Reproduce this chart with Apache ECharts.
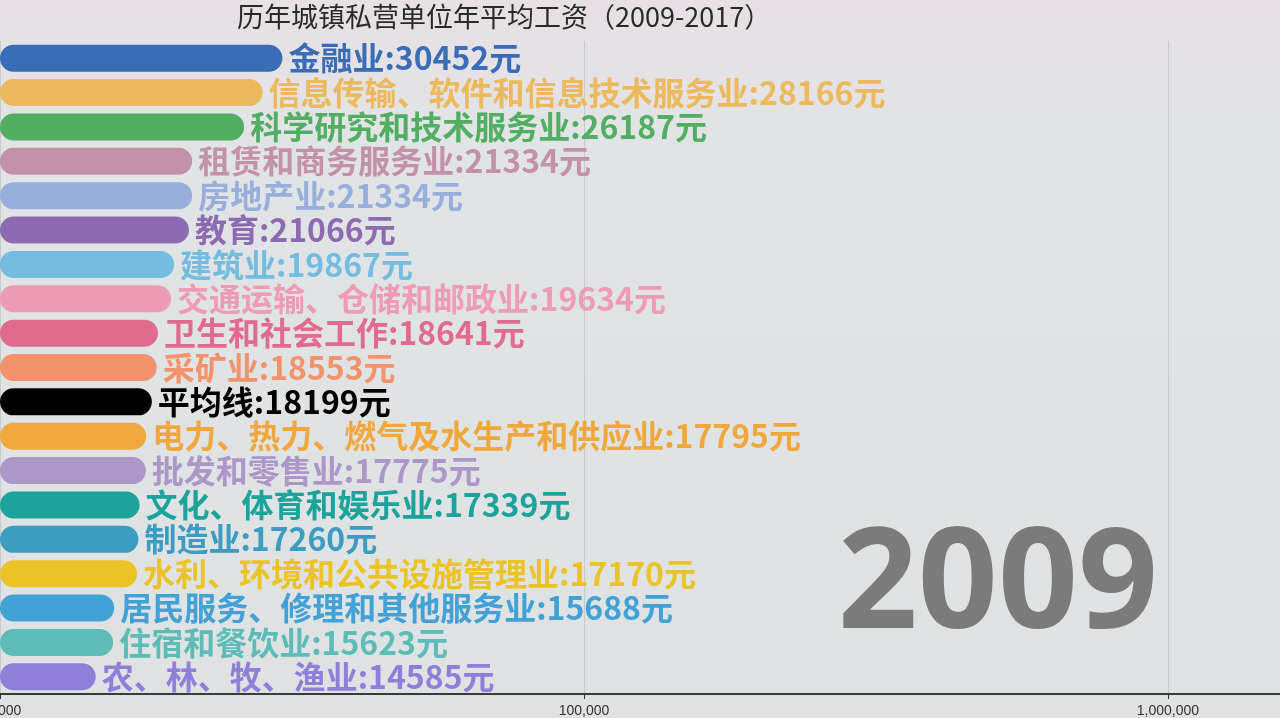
<!DOCTYPE html>
<html>
<head>
<meta charset="utf-8">
<script src="https://cdn.jsdelivr.net/npm/echarts@6/dist/echarts.min.js"></script>
<style>
html,body{margin:0;padding:0;width:1280px;height:718px;overflow:hidden;}
#c{width:1280px;height:718px;}
</style>
</head>
<body>
<div id="c"></div>
<script>
var titleText = '历年城镇私营单位年平均工资（2009-2017）';
var yearText = '2009';
var categories = ['金融业','信息传输、软件和信息技术服务业','科学研究和技术服务业','租赁和商务服务业','房地产业','教育','建筑业','交通运输、仓储和邮政业','卫生和社会工作','采矿业','平均线','电力、热力、燃气及水生产和供应业','批发和零售业','文化、体育和娱乐业','制造业','水利、环境和公共设施管理业','居民服务、修理和其他服务业','住宿和餐饮业','农、林、牧、渔业'];
var values = [30452,28166,26187,21334,21334,21066,19867,19634,18641,18553,18199,17795,17775,17339,17260,17170,15688,15623,14585];
var colors = ['#3a6db5','#ecb95c','#52ae62','#c391a8','#98aedb','#8e6bb0','#75bde0','#ee9bb5','#e06b8d','#f2936c','#000000','#f0a83c','#ad96c8','#1ca39c','#3d9cc2','#ebc326','#42a2d6','#5dbcb7','#8f7fd8'];
var xTicks = [10000,100000,1000000];

var chart = echarts.init(document.getElementById('c'));
var data = values.map(function(v,i){
  return {value:v, itemStyle:{color:colors[i]}, label:{color:colors[i]}};
});
chart.setOption({
  backgroundColor: {type:'linear',x:0,y:0,x2:0,y2:1,colorStops:[{offset:0,color:'#e7e0e5'},{offset:0.2,color:'#e1e4e6'},{offset:1,color:'#dfe2e2'}]},
  animation:false,
  title:{text:titleText,left:232,top:-2,textStyle:{fontFamily:'Noto Sans CJK SC',fontSize:27,fontWeight:'normal',color:'#2a2a2a'}},
  grid:{left:0,right:0,top:41,bottom:24,containLabel:false,outerBoundsMode:'none'},
  xAxis:{type:'log',logBase:10,min:10000,max:1556000,
    axisLine:{show:true,lineStyle:{color:'#000',width:1.5}},
    axisTick:{show:true,length:5,lineStyle:{color:'#333'}},
    axisLabel:{show:true,fontSize:14,color:'#333',margin:10,fontFamily:'Liberation Sans',
      formatter:function(v){return xTicks.indexOf(Math.round(v))>=0?Math.round(v).toLocaleString('en-US'):'';}},
    splitLine:{show:true,lineStyle:{color:'#c6cacc',width:1}},
    minorTick:{show:false}
  },
  yAxis:{type:'category',inverse:true,data:categories,show:false},
  series:[{type:'bar',data:data,barWidth:27,
    itemStyle:{borderRadius:14},
    label:{show:true,position:'right',distance:6,fontSize:32,fontWeight:'bold',fontFamily:'Noto Sans CJK SC',
      formatter:function(p){return p.name+':'+p.value+'元';}}
  }],
  graphic:[{type:'text',right:122,top:518,style:{text:yearText,font:'bold 140px "Open Sans"',fill:'#7b7b7b'}}]
});
</script>
</body>
</html>
